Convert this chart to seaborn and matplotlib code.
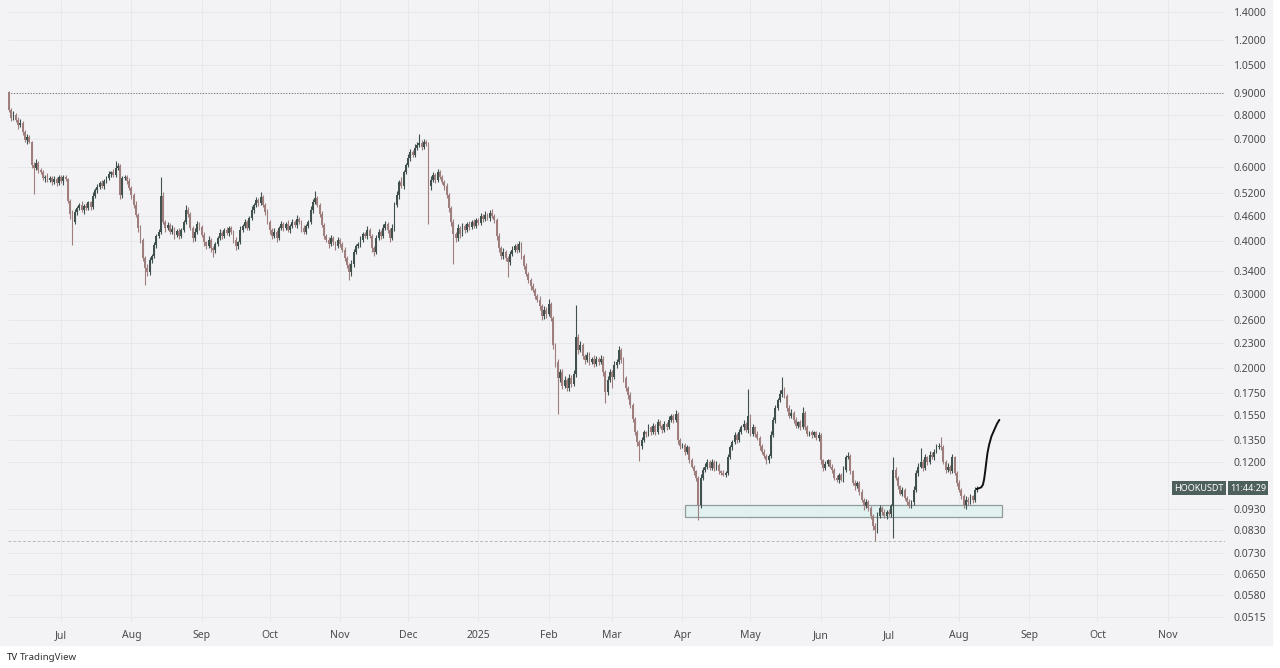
import matplotlib
matplotlib.use("Agg")
import matplotlib.dates as mdates
import matplotlib.pyplot as plt
import numpy as np
import pandas as pd
import seaborn as sns
from matplotlib.patches import Rectangle
from matplotlib.ticker import NullLocator
from matplotlib.transforms import blended_transform_factory

# daily HOOKUSDT candles, open of each day = previous close
first_day = "2024-06-08"
first_open = 0.905
closes = [
    0.82, 0.785, 0.80, 0.776, 0.756, 0.765, 0.727, 0.696, 0.707, 0.69,
    0.607, 0.597, 0.614, 0.59, 0.583, 0.565, 0.57, 0.56, 0.565, 0.554,
    0.562, 0.551, 0.568, 0.557, 0.57, 0.562, 0.50, 0.465, 0.445, 0.47,
    0.48, 0.488, 0.475, 0.485, 0.48, 0.495, 0.483, 0.513, 0.53, 0.539,
    0.551, 0.542, 0.557, 0.565, 0.578, 0.583, 0.575, 0.597, 0.604, 0.516,
    0.565, 0.57, 0.557, 0.536, 0.516, 0.488, 0.462, 0.431, 0.403, 0.366,
    0.346, 0.338, 0.362, 0.37, 0.392, 0.412, 0.422, 0.513, 0.445, 0.431,
    0.438, 0.422, 0.428, 0.414, 0.424, 0.412, 0.426, 0.445, 0.475, 0.465,
    0.431, 0.407, 0.422, 0.44, 0.433, 0.414, 0.398, 0.39, 0.403, 0.386,
    0.382, 0.394, 0.407, 0.419, 0.412, 0.426, 0.419, 0.431, 0.422, 0.403,
    0.39, 0.398, 0.426, 0.436, 0.445, 0.431, 0.455, 0.475, 0.488, 0.502,
    0.494, 0.51, 0.488, 0.47, 0.445, 0.426, 0.412, 0.422, 0.407, 0.431,
    0.44, 0.431, 0.44, 0.426, 0.436, 0.445, 0.438, 0.452, 0.445, 0.431,
    0.422, 0.436, 0.445, 0.475, 0.497, 0.507, 0.488, 0.465, 0.438, 0.412,
    0.403, 0.394, 0.407, 0.398, 0.39, 0.403, 0.394, 0.382, 0.366, 0.352,
    0.338, 0.354, 0.378, 0.39, 0.394, 0.403, 0.416, 0.412, 0.426, 0.412,
    0.386, 0.378, 0.407, 0.422, 0.412, 0.431, 0.44, 0.426, 0.407, 0.431,
    0.488, 0.516, 0.554, 0.542, 0.583, 0.607, 0.631, 0.652, 0.641, 0.666,
    0.677, 0.684, 0.67, 0.688, 0.68, 0.542, 0.56, 0.575, 0.56, 0.583,
    0.57, 0.554, 0.542, 0.516, 0.48, 0.445, 0.416, 0.407, 0.431, 0.416,
    0.436, 0.426, 0.44, 0.433, 0.445, 0.436, 0.45, 0.443, 0.46, 0.452,
    0.462, 0.455, 0.467, 0.46, 0.45, 0.412, 0.386, 0.37, 0.378, 0.366,
    0.358, 0.374, 0.382, 0.39, 0.382, 0.394, 0.37, 0.35, 0.335, 0.324,
    0.314, 0.307, 0.297, 0.291, 0.281, 0.266, 0.275, 0.269, 0.285, 0.264,
    0.227, 0.207, 0.19, 0.196, 0.182, 0.188, 0.18, 0.19, 0.184, 0.194,
    0.237, 0.221, 0.227, 0.214, 0.2095, 0.215, 0.207, 0.211, 0.205, 0.211,
    0.207, 0.211, 0.196, 0.176, 0.188, 0.196, 0.191, 0.204, 0.207, 0.221,
    0.2095, 0.19, 0.18, 0.173, 0.164, 0.152, 0.141, 0.134, 0.131, 0.135,
    0.141, 0.14, 0.145, 0.141, 0.146, 0.141, 0.149, 0.146, 0.143, 0.148,
    0.145, 0.151, 0.154, 0.151, 0.156, 0.135, 0.131, 0.132, 0.127, 0.13,
    0.121, 0.117, 0.114, 0.11, 0.095, 0.11, 0.115, 0.117, 0.12, 0.116,
    0.12, 0.116, 0.118, 0.114, 0.113, 0.112, 0.113, 0.123, 0.13, 0.134,
    0.139, 0.135, 0.141, 0.145, 0.148, 0.143, 0.154, 0.14, 0.145, 0.14,
    0.137, 0.131, 0.127, 0.124, 0.121, 0.124, 0.139, 0.151, 0.161, 0.168,
    0.174, 0.178, 0.172, 0.161, 0.154, 0.157, 0.151, 0.146, 0.149, 0.145,
    0.157, 0.145, 0.14, 0.141, 0.139, 0.141, 0.137, 0.139, 0.121, 0.116,
    0.119, 0.121, 0.117, 0.115, 0.11, 0.109, 0.112, 0.109, 0.115, 0.123,
    0.124, 0.114, 0.107, 0.105, 0.107, 0.102, 0.0976, 0.0944, 0.0966, 0.0934,
    0.0894, 0.0846, 0.0828, 0.0894, 0.0934, 0.0914, 0.0894, 0.0914, 0.0904, 0.0944,
    0.115, 0.11, 0.105, 0.101, 0.103, 0.0986, 0.0966, 0.0944, 0.0966, 0.103,
    0.113, 0.117, 0.12, 0.116, 0.123, 0.12, 0.125, 0.123, 0.127, 0.13,
    0.131, 0.13, 0.12, 0.115, 0.117, 0.114, 0.123, 0.113, 0.107, 0.103,
    0.0995, 0.095, 0.0976, 0.0966, 0.0995, 0.0976, 0.103, 0.104,
]
# wick length beyond the body, in percent
upper_wick_pct = [
    0.5, 1, 2, 1, 1.5, 2, 1, 1, 2, 1, 0.5, 1.5, 2, 1, 1, 1.5, 1, 2, 1, 1,
    1.5, 1, 1, 1.5, 1, 1, 0.5, 1, 2, 1.5, 1, 1, 2, 1, 1.5, 1, 1, 2, 1, 1.5,
    1, 1.5, 1, 1, 1.5, 1, 2, 4, 1.5, 1, 1.5, 1, 1, 1.5, 1, 1, 2, 1, 1.5, 1,
    1, 2, 1.5, 1, 2, 1, 1.5, 11, 2, 1, 1.5, 1, 2, 1, 1, 1.5, 1, 1, 3, 1.5,
    1, 1, 2, 1.5, 1, 1, 1.5, 1, 2, 1, 1, 1.5, 1, 2, 1, 1, 1.5, 1, 1, 1,
    1.5, 1, 2, 1, 1.5, 1, 1, 2, 1, 1.5, 1, 3, 1, 1, 1.5, 1, 1, 2, 1, 1,
    1.5, 1, 1, 2, 1, 1.5, 1, 2, 1, 1, 1.5, 1, 1, 2, 1.5, 4, 1, 1, 1.5, 1,
    1, 1.5, 2, 1, 1, 1.5, 1, 1, 1.5, 1, 1, 2, 1.5, 1, 1, 2, 1.5, 1, 2, 1,
    1, 1, 2, 1.5, 1, 2, 1.5, 1, 1, 2, 1.5, 2, 1, 2.5, 1.5, 1, 2, 1.5, 1, 2,
    1.5, 5, 1.5, 2, 1, 1, 2, 1.5, 1, 2, 1.5, 1, 1, 1.5, 1, 1, 1.5, 1, 2, 1,
    1.5, 1, 1, 1.5, 1, 1.5, 1, 1, 1.5, 1, 2, 1, 1.5, 2.5, 1, 1, 1.5, 1, 2, 1,
    1, 1.5, 2, 1, 1.5, 2, 1, 1, 1.5, 1, 1, 1.5, 1, 1, 2, 1, 2, 1.5, 2.5, 1,
    1, 1.5, 2, 2, 1.5, 2, 1, 2, 1.5, 2, 19, 2, 2.5, 1.5, 1, 2, 1.5, 1, 2, 1.5,
    1, 2, 1.5, 1, 2, 1.5, 1, 2, 1.5, 2.5, 1, 1.5, 1, 1, 1.5, 1, 1, 1.5, 1, 2,
    1.5, 1, 2, 1, 1.5, 1, 2, 1.5, 1, 1.5, 1, 2, 1.5, 1, 2, 1, 1.5, 1, 1, 1.5,
    1, 1.5, 1, 1, 1, 2, 1.5, 2, 1.5, 1, 1.5, 1, 2, 1, 1, 1.5, 1, 2, 1.5, 1,
    1.5, 1, 2, 1.5, 2, 1, 16, 1.5, 2, 1, 1.5, 1, 1, 1.5, 1, 1, 2, 1.5, 2, 1.5,
    2, 7, 1.5, 1, 1.5, 2, 1, 1.5, 1, 1.5, 3, 1, 1.5, 1, 1.5, 1, 1, 1.5, 1, 1,
    1.5, 1, 1, 1.5, 1, 1.5, 1, 1, 2, 1.5, 2, 1, 1, 1.5, 1, 1, 1.5, 1, 1.5, 1,
    1, 1, 1.5, 2, 1.5, 1, 1.5, 1, 1.5, 1, 7, 1.5, 1, 1, 1.5, 1, 1, 1.5, 1, 2,
    1.5, 2, 8, 1.5, 2, 1, 2, 1.5, 1.5, 2, 1.5, 5, 1.5, 1, 2, 1, 2, 1, 1, 1.5,
    1, 1.5, 2, 1.5, 1.5, 1, 1.5, 1,
]
lower_wick_pct = [
    1, 1.5, 1, 1, 2, 1, 1.5, 1, 2, 1, 1.5, 13, 1, 1.5, 1, 1, 2, 1, 1, 1.5,
    1, 1.5, 1, 1, 2, 1, 1.5, 3, 12, 1, 1.5, 1, 1, 2, 1, 1, 1.5, 1, 1, 1.5,
    1, 1, 1.5, 1, 1, 1.5, 1, 1, 1, 2, 1.5, 1, 1.5, 1, 2, 1.5, 1, 2, 1.5, 2,
    9, 2, 1.5, 2, 1, 1.5, 1, 1.5, 1, 2, 1, 1.5, 1, 2, 1, 1.5, 1, 1, 1, 1.5,
    1, 2, 1.5, 1, 1.5, 1, 2, 1.5, 1, 2, 4, 1.5, 1, 1, 1.5, 1, 1, 1.5, 1, 1.5,
    2, 1.5, 1, 1, 1.5, 1, 1, 1, 1.5, 1, 1.5, 1, 1, 1.5, 1, 2, 1.5, 1, 2, 1,
    1, 1.5, 1, 1, 1.5, 1, 1, 1.5, 1, 2, 1.5, 1, 1, 1, 1.5, 1, 1, 1.5, 1, 1.5,
    1, 2, 1, 1.5, 2, 1, 1.5, 1, 2, 1.5, 4, 2, 1.5, 1, 1, 1.5, 1, 1, 1.5, 1,
    2, 2.5, 1, 1, 1.5, 1, 1, 1.5, 2, 1, 1.5, 1, 2, 1, 1.5, 1, 1, 1.5, 1, 1,
    1, 1, 1.5, 1, 1, 19, 2, 1, 1.5, 1, 1.5, 1, 2, 1.5, 2, 2, 15, 2, 1.5, 2,
    1, 1.5, 1, 1.5, 1, 1, 1.5, 1, 1, 1.5, 1, 1, 1.5, 1, 1.5, 2, 2, 1.5, 2, 1.5,
    8, 1.5, 1, 1, 1.5, 1, 2, 1.5, 1, 1.5, 2, 1, 1.5, 1, 2, 2, 1.5, 2, 1, 2,
    2, 2.5, 18, 2, 2, 1.5, 2, 1.5, 2, 1, 1.5, 2, 1, 1.5, 2, 1, 1.5, 1, 1.5, 1,
    1.5, 1, 2, 6, 1.5, 1, 6, 1, 1.5, 1, 1.5, 2, 1.5, 2, 1.5, 2, 1.5, 2, 8, 1.5,
    1, 1.5, 1, 1.5, 1, 1.5, 1, 1, 1.5, 1, 1.5, 1, 1, 1.5, 1, 2, 1.5, 1, 2, 1.5,
    1.5, 1, 2, 1.5, 8, 1.5, 1, 1, 1.5, 1, 1, 1.5, 1, 1.5, 1, 1, 1.5, 1, 1, 1.5,
    1, 1.5, 1, 1, 1.5, 1, 1.5, 1, 1, 1.5, 1, 2, 1.5, 1, 2, 1.5, 1, 1, 1.5, 1,
    1, 1.5, 1, 1.5, 1, 1, 1.5, 1, 1, 1.5, 1, 1.5, 1, 1, 1.5, 1, 1, 1.5, 2, 1.5,
    1, 1.5, 1, 1.5, 1, 1.5, 2, 1, 1.5, 1, 1, 1.5, 1, 2, 1, 1.5, 1, 2, 1, 1.5,
    1.5, 2, 6, 1.5, 1, 1.5, 1, 1.5, 1, 1.5, 16, 1, 1.5, 1, 1.5, 1, 1.5, 1, 1, 1.5,
    1, 1.5, 1, 1.5, 1, 1.5, 1, 1, 1.5, 1, 1, 1.5, 1, 1.5, 1, 1.5, 1, 1, 1.5, 1,
    1.5, 1.5, 2, 1.5, 1, 1.5, 1, 1,
]

price_ticks = [1.4, 1.2, 1.05, 0.9, 0.8, 0.7, 0.6, 0.52, 0.46, 0.4, 0.34, 0.3,
               0.26, 0.23, 0.2, 0.175, 0.155, 0.135, 0.12, 0.093, 0.083, 0.073,
               0.065, 0.058, 0.0515]
month_ticks = pd.date_range("2024-07-01", "2025-11-01", freq="MS")
month_labels = ["Jul", "Aug", "Sep", "Oct", "Nov", "Dec", "2025", "Feb", "Mar",
                "Apr", "May", "Jun", "Jul", "Aug", "Sep", "Oct", "Nov"]

# drawings on the chart
resistance_level = 0.9
lower_level = 0.0778
zone_start, zone_end = "2025-04-02", "2025-08-19 18:00"
zone_low, zone_high = 0.0888, 0.095
path_times = ["2025-08-08 18:00", "2025-08-09 18:00", "2025-08-10 18:00",
              "2025-08-11 12:00", "2025-08-12 00:00", "2025-08-12 12:00",
              "2025-08-13 00:00", "2025-08-13 12:00", "2025-08-14 06:00",
              "2025-08-15 06:00", "2025-08-16 12:00", "2025-08-17 18:00",
              "2025-08-18 18:00"]
path_prices = [0.1035, 0.104, 0.1045, 0.106, 0.109, 0.114, 0.12, 0.126,
               0.132, 0.138, 0.143, 0.148, 0.151]

symbol = "HOOKUSDT"
countdown = "11:44:29"

UP = "#3f504d"
DOWN = "#9f7e7e"
BG = "#f3f3f6"
GRID = "#e5e6ea"
TEXT = "#4a4a4a"

sns.set_theme(style="white")
plt.rcParams["font.family"] = ["Noto Sans", "DejaVu Sans"]

closes_arr = np.array(closes)
opens_arr = np.r_[first_open, closes_arr[:-1]]
body_top = np.maximum(opens_arr, closes_arr)
body_bot = np.minimum(opens_arr, closes_arr)
highs = body_top * (1 + np.array(upper_wick_pct) / 100)
lows = body_bot * (1 - np.array(lower_wick_pct) / 100)
dates = pd.date_range(first_day, periods=len(closes), freq="D")
x = mdates.date2num(dates)
colors = np.where(closes_arr >= opens_arr, UP, DOWN)

fig = plt.figure(figsize=(12.8, 6.68), dpi=100, facecolor="white")
fig.patches.append(Rectangle((0, 1 - 645 / 668), 1272 / 1280, 645 / 668,
                             transform=fig.transFigure, color=BG, zorder=-10))
ax = fig.add_axes([8 / 1280, 1 - 622 / 668, 1217 / 1280, 622 / 668])
ax.set_facecolor(BG)
ax.set_yscale("log")

ax.vlines(x, lows, highs, colors=colors, linewidth=0.8, zorder=3)
ax.bar(x, body_top - body_bot, bottom=body_bot, width=0.82, color=colors,
       linewidth=0, zorder=3)

ax.axhline(resistance_level, color="#7a7a7a", linestyle=(0, (1, 1.5)), linewidth=0.8, zorder=2)
ax.axhline(lower_level, color="#b8b8b8", linestyle=(0, (3, 2)), linewidth=0.7, zorder=2)

z0, z1 = mdates.date2num(pd.Timestamp(zone_start)), mdates.date2num(pd.Timestamp(zone_end))
ax.add_patch(Rectangle((z0, zone_low), z1 - z0, zone_high - zone_low,
                       facecolor="#e0f1f0", edgecolor="#8f9c9b", linewidth=0.9, zorder=2))

sns.lineplot(x=mdates.date2num(pd.to_datetime(path_times)), y=path_prices, ax=ax,
             color="#111111", linewidth=1.4, sort=False, zorder=5)

ax.set_xlim(mdates.date2num(pd.Timestamp("2024-06-07 14:00")),
            mdates.date2num(pd.Timestamp("2025-11-26 06:00")))
ax.set_ylim(0.0501, 1.495)

ax.yaxis.tick_right()
ax.set_yticks(price_ticks)
ax.set_yticklabels([f"{p:.4f}" for p in price_ticks])
ax.yaxis.set_minor_locator(NullLocator())
ax.set_xticks(mdates.date2num(month_ticks))
ax.set_xticklabels(month_labels)
ax.tick_params(axis="y", length=0, pad=6, labelsize=7.5, labelcolor=TEXT)
ax.tick_params(axis="x", length=0, pad=6, labelsize=7.5, labelcolor=TEXT)
ax.grid(True, color=GRID, linewidth=0.6, zorder=0)
ax.set_axisbelow(True)
for s in ax.spines.values():
    s.set_visible(False)

# last price label on the scale
trans = blended_transform_factory(ax.transAxes, ax.transData)
ax.text(0.999, closes[-1], symbol, transform=trans, ha="right", va="center",
        fontsize=6.5, color="white", fontweight="bold", clip_on=False, zorder=6,
        bbox=dict(boxstyle="square,pad=0.25", facecolor="#4d605c", edgecolor="none"))
ax.text(1.004, closes[-1], countdown, transform=trans, ha="left", va="center",
        fontsize=6.5, color="white", clip_on=False, zorder=6,
        bbox=dict(boxstyle="square,pad=0.25", facecolor="#4d605c", edgecolor="none"))

fig.text(7 / 1280, 1 - 658 / 668, "TV", fontsize=7, fontweight="bold", color="#222", va="center")
fig.text(20 / 1280, 1 - 658 / 668, "TradingView", fontsize=7, color="#333", va="center")

fig.savefig("out.png", dpi=100, facecolor="white")
